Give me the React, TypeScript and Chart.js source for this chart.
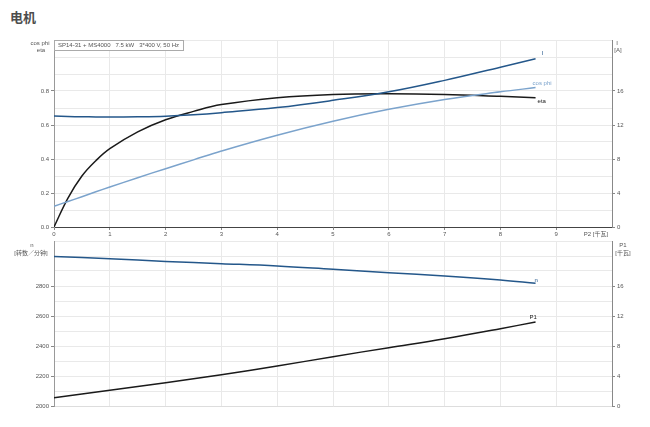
import React, { useEffect, useRef } from "react";
import { Chart, registerables } from "chart.js";
Chart.register(...registerables);

// ---- Data ----
const p2Top = [0, 0.25, 0.5, 0.75, 1, 1.5, 2, 2.5, 3, 4, 5, 6, 7, 8, 8.63];
const currentI = [13.05, 13.0, 12.97, 12.95, 12.94, 12.96, 13.03, 13.2, 13.45, 14.05, 14.9, 15.9, 17.25, 18.8, 19.8];
const cosPhi = [0.122, 0.15, 0.178, 0.207, 0.235, 0.29, 0.343, 0.395, 0.447, 0.54, 0.622, 0.692, 0.75, 0.795, 0.82];
const eta = [0, 0.17, 0.3, 0.39, 0.461, 0.56, 0.631, 0.68, 0.72, 0.761, 0.78, 0.784, 0.78, 0.769, 0.761];

const p2Bottom = [0, 1, 2, 3, 4, 5, 6, 7, 8, 8.63];
const speedN = [2996, 2982, 2964, 2949, 2933, 2911, 2889, 2867, 2840, 2818];
const powerP1 = [1.11, 2.09, 3.11, 4.18, 5.33, 6.58, 7.78, 8.98, 10.31, 11.2];

const xTickLabels = ["0", "1", "2", "3", "4", "5", "6", "7", "8", "9"];
const legendText = "SP14-31 + MS4000   7.5 kW   3*400 V, 50 Hz";

const FONT = '"Liberation Sans", Arial, "Noto Sans CJK SC", sans-serif';
const TXT = "#555";
const DARK_BLUE = "#24578a";
const LIGHT_BLUE = "#7ba3cc";
const BLACK = "#1a1a1a";
const GRID = "#e9e9e9";
const CLEAR = "rgba(0,0,0,0)";

const pts = (xs: number[], ys: number[]) => xs.map((x, i) => ({ x, y: ys[i] }));

function endLabels(chart: any, items: { ds: number; text: string; dx: number; dy: number; color: string; align?: string }[]) {
  const ctx = chart.ctx;
  ctx.save();
  ctx.font = `6px ${FONT}`;
  ctx.textBaseline = "middle";
  for (const it of items) {
    const meta = chart.getDatasetMeta(it.ds);
    const el = meta.data[meta.data.length - 1];
    if (!el) continue;
    ctx.fillStyle = it.color;
    ctx.textAlign = (it.align as any) || "left";
    ctx.fillText(it.text, el.x + it.dx, el.y + it.dy);
  }
  ctx.restore();
}

function text(ctx: any, s: string, x: number, y: number, align: string, color = TXT, size = 6) {
  ctx.font = `${size}px ${FONT}`;
  ctx.fillStyle = color;
  ctx.textAlign = align;
  ctx.textBaseline = "middle";
  ctx.fillText(s, x, y);
}

const topPlugin = {
  id: "topAnnot",
  afterDraw(chart: any) {
    const ctx = chart.ctx;
    const a = chart.chartArea;
    ctx.save();
    ctx.font = `6px ${FONT}`;
    const w = ctx.measureText(legendText).width + 8;
    ctx.fillStyle = "#fff";
    ctx.fillRect(a.left, a.top, w, 10);
    ctx.strokeStyle = "#aaa";
    ctx.lineWidth = 1;
    ctx.strokeRect(a.left + 0.5, a.top + 0.5, w, 10);
    text(ctx, legendText, a.left + 4, a.top + 5.5, "left");
    text(ctx, "cos phi", 40, 13, "center");
    text(ctx, "eta", 41, 20, "center");
    text(ctx, "I", 617, 13, "center");
    text(ctx, "[A]", 618, 20, "center");
    text(ctx, "P2 [千瓦]", 596, a.bottom + 7, "center");
    ctx.restore();
    endLabels(chart, [
      { ds: 0, text: "I", dx: 6, dy: -5, color: DARK_BLUE },
      { ds: 1, text: "cos phi", dx: -3, dy: -4, color: LIGHT_BLUE },
      { ds: 2, text: "eta", dx: 2, dy: 4, color: BLACK },
    ]);
  },
};

const bottomPlugin = {
  id: "bottomAnnot",
  afterDraw(chart: any) {
    const ctx = chart.ctx;
    ctx.save();
    text(ctx, "n", 32, 14, "center");
    text(ctx, "[转数／分钟]", 31, 22, "center");
    text(ctx, "P1", 623, 14, "center");
    text(ctx, "[千瓦]", 623, 22, "center");
    ctx.restore();
    endLabels(chart, [
      { ds: 0, text: "n", dx: -1, dy: -3, color: DARK_BLUE },
      { ds: 1, text: "P1", dx: -6, dy: -5, color: BLACK },
    ]);
  },
};

const tickFont = { family: FONT, size: 6 };

function App() {
  const topRef = useRef<HTMLCanvasElement>(null);
  const botRef = useRef<HTMLCanvasElement>(null);

  useEffect(() => {
    const line = (label: string, data: any, color: string, yAxisID: string) => ({
      label,
      data,
      borderColor: color,
      backgroundColor: color,
      borderWidth: 1.5,
      pointRadius: 0,
      tension: 0.4,
      yAxisID,
    });

    const topChart = new Chart(topRef.current!, {
      type: "line",
      data: {
        datasets: [
          line("I", pts(p2Top, currentI), DARK_BLUE, "yR"),
          line("cos phi", pts(p2Top, cosPhi), LIGHT_BLUE, "y"),
          line("eta", pts(p2Top, eta), BLACK, "y"),
        ],
      },
      options: {
        responsive: false,
        animation: false,
        events: [],
        layout: { padding: { top: 10, left: 0, right: 0, bottom: 0 } },
        plugins: { legend: { display: false }, tooltip: { enabled: false } },
        scales: {
          x: {
            type: "linear",
            min: 0,
            max: 10,
            ticks: {
              stepSize: 1,
              autoSkip: false,
              maxRotation: 0,
              font: tickFont,
              color: TXT,
              padding: 1,
              callback: (v: any) => (v <= 9 ? xTickLabels[Math.round(v)] : ""),
            },
            grid: { color: GRID, tickLength: 3, tickColor: (c: any) => (c.tick && c.tick.value <= 9 ? "#888" : CLEAR) },
            border: { color: "#444", width: 1 },
            afterFit: (s: any) => { s.height = 18; },
          },
          y: {
            type: "linear",
            position: "left",
            min: 0,
            max: 1.1,
            ticks: {
              stepSize: 0.1,
              autoSkip: false,
              font: tickFont,
              color: TXT,
              padding: 2,
              callback: (v: any) => {
                const k = Math.round(v * 10);
                return k % 2 === 0 && k <= 8 ? (k / 10).toFixed(1) : "";
              },
            },
            grid: {
              color: GRID,
              tickLength: 3,
              tickColor: (c: any) => {
                const k = Math.round((c.tick ? c.tick.value : 0) * 10);
                return k % 2 === 0 && k <= 8 ? "#888" : CLEAR;
              },
            },
            border: { color: "#999" },
            afterFit: (s: any) => { s.width = 54; },
          },
          yR: {
            type: "linear",
            position: "right",
            min: 0,
            max: 22,
            ticks: {
              stepSize: 4,
              includeBounds: false,
              autoSkip: false,
              font: tickFont,
              color: TXT,
              padding: 2,
              callback: (v: any) => (v <= 16 ? String(v) : ""),
            },
            grid: {
              drawOnChartArea: false,
              tickLength: 3,
              tickColor: (c: any) => (c.tick && c.tick.value <= 16 ? "#888" : CLEAR),
            },
            border: { color: "#888" },
            afterFit: (s: any) => { s.width = 38; },
          },
        },
      },
      plugins: [topPlugin],
    } as any);

    const botChart = new Chart(botRef.current!, {
      type: "line",
      data: {
        datasets: [
          line("n", pts(p2Bottom, speedN), DARK_BLUE, "y"),
          line("P1", pts(p2Bottom, powerP1), BLACK, "yR"),
        ],
      },
      options: {
        responsive: false,
        animation: false,
        events: [],
        layout: { padding: { top: 10, left: 0, right: 0, bottom: 0 } },
        plugins: { legend: { display: false }, tooltip: { enabled: false } },
        scales: {
          x: {
            type: "linear",
            min: 0,
            max: 10,
            ticks: { stepSize: 1, display: false },
            grid: { color: GRID, drawTicks: false },
            border: { color: "#ddd" },
            afterFit: (s: any) => { s.height = 12; },
          },
          y: {
            type: "linear",
            position: "left",
            min: 2000,
            max: 3100,
            ticks: {
              stepSize: 100,
              autoSkip: false,
              font: tickFont,
              color: TXT,
              padding: 2,
              callback: (v: any) => (v % 200 === 0 && v <= 2800 ? String(v) : ""),
            },
            grid: {
              color: GRID,
              tickLength: 3,
              tickColor: (c: any) => (c.tick && c.tick.value % 200 === 0 && c.tick.value <= 2800 ? "#888" : CLEAR),
            },
            border: { color: "#999" },
            afterFit: (s: any) => { s.width = 54; },
          },
          yR: {
            type: "linear",
            position: "right",
            min: 0,
            max: 22,
            ticks: {
              stepSize: 4,
              includeBounds: false,
              autoSkip: false,
              font: tickFont,
              color: TXT,
              padding: 2,
              callback: (v: any) => (v <= 16 ? String(v) : ""),
            },
            grid: {
              drawOnChartArea: false,
              tickLength: 3,
              tickColor: (c: any) => (c.tick && c.tick.value <= 16 ? "#888" : CLEAR),
            },
            border: { color: "#888" },
            afterFit: (s: any) => { s.width = 38; },
          },
        },
      },
      plugins: [bottomPlugin],
    } as any);

    return () => {
      topChart.destroy();
      botChart.destroy();
    };
  }, []);

  return (
    <div style={{ position: "fixed", left: 0, top: 0, width: 650, height: 427, background: "#fff", overflow: "hidden" }}>
      <div
        style={{
          position: "absolute",
          left: 10,
          top: 9,
          fontFamily: '"Noto Sans CJK SC", sans-serif',
          fontWeight: 700,
          fontSize: 13,
          lineHeight: "16px",
          color: "#4d4d4d",
        }}
      >
        电机
      </div>
      <canvas ref={topRef} width={650} height={215} style={{ position: "absolute", left: 0, top: 30, width: 650, height: 215 }} />
      <canvas ref={botRef} width={650} height={187} style={{ position: "absolute", left: 0, top: 231, width: 650, height: 187 }} />
    </div>
  );
}

export default App;
